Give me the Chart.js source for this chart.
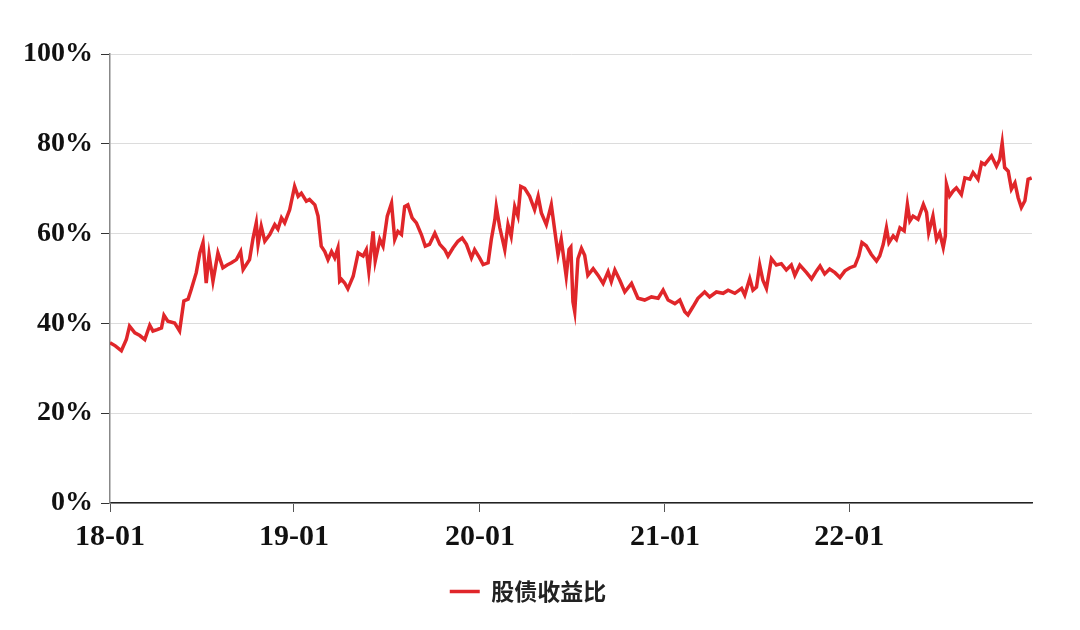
<!DOCTYPE html>
<html>
<head>
<meta charset="utf-8">
<script src="https://cdn.jsdelivr.net/npm/chart.js@4"></script>
<style>
  html, body { margin: 0; padding: 0; background: #fff; }
  #chart { display: block; }
</style>
</head>
<body>
<canvas id="chart" width="1080" height="630"></canvas>
<script>
// x position of each reading, in weeks since 2018-01-01
const weeks = [
  0, 1.5, 3.2, 4.6, 5.5, 7.0, 8.4, 9.8, 11.2, 12.1, 13.3, 14.5, 15.2, 16.3, 18.2, 19.6,
  20.8, 22.0, 22.9, 24.3, 25.3, 26.2, 27.1, 27.9, 29.0, 30.4, 31.8, 33.0, 34.2, 35.6, 36.8, 37.5,
  39.3, 40.3, 41.2, 41.7, 42.6, 43.6, 45.0, 46.4, 47.3, 48.3, 49.2, 50.6, 52.0, 53.0, 53.9, 55.3,
  56.2, 57.7, 58.6, 59.5, 60.5, 61.4, 62.4, 63.3, 64.2, 64.7, 65.2, 66.1, 67.0, 68.5, 69.9, 71.3,
  72.2, 72.9, 74.1, 74.7, 76.0, 76.9, 78.1, 79.3, 80.2, 81.1, 82.1, 83.0, 83.9, 85.1, 86.3, 87.7,
  88.8, 90.0, 91.5, 92.9, 94.3, 95.2, 96.6, 98.0, 99.2, 100.4, 101.8, 102.7, 104.1, 105.1, 106.5, 107.4,
  108.4, 108.8, 109.8, 111.2, 112.1, 113.0, 114.0, 114.9, 115.7, 116.8, 118.2, 119.6, 120.6, 121.5, 122.9, 124.3,
  125.3, 126.2, 127.1, 128.5, 129.3, 129.8, 130.4, 130.9, 131.8, 132.8, 133.7, 134.6, 136.1, 137.5, 138.9, 140.3,
  141.2, 142.2, 143.6, 145.0, 146.9, 148.7, 150.6, 152.5, 154.4, 155.8, 157.2, 159.1, 160.5, 161.9, 162.8, 164.2,
  165.6, 167.5, 168.9, 170.8, 172.7, 174.1, 176.0, 177.9, 178.8, 180.2, 181.1, 182.1, 183.0, 183.9, 184.9, 186.3,
  187.7, 189.1, 190.5, 191.9, 192.9, 194.3, 196.2, 197.6, 199.0, 200.0, 201.3, 202.7, 204.2, 205.6, 207.0, 208.4,
  209.8, 210.9, 211.8, 213.0, 214.4, 215.9, 216.8, 217.8, 218.7, 219.4, 220.6, 221.5, 222.5, 223.7, 224.6, 225.3,
  226.2, 227.6, 229.1, 230.0, 230.6, 231.8, 232.8, 233.7, 234.7, 235.3, 235.6, 236.5, 237.5, 238.4, 239.8, 240.8,
  242.2, 243.1, 244.5, 245.5, 246.4, 248.3, 249.7, 250.6, 251.3, 252.0, 253.0, 253.9, 254.9, 255.8, 256.7, 257.7,
  258.6, 259.6
];

// 股债收益比, %
const ratio = [
  35.7, 35.0, 33.9, 36.4, 39.4, 37.9, 37.3, 36.4, 39.6, 38.3, 38.6, 39.0, 41.8, 40.5, 40.1, 38.3,
  45.0, 45.4, 47.6, 51.3, 55.7, 58.0, 49.0, 55.3, 49.4, 55.7, 52.4, 53.0, 53.5, 54.2, 56.0, 52.0,
  54.2, 59.0, 62.4, 57.6, 61.6, 58.3, 59.8, 62.0, 61.0, 63.5, 62.4, 65.3, 70.5, 68.3, 69.0, 67.2,
  67.6, 66.4, 63.9, 57.2, 56.0, 54.2, 56.0, 54.6, 56.8, 49.4, 49.8, 49.0, 47.7, 50.5, 55.7, 55.0,
  56.4, 51.6, 60.5, 53.9, 58.7, 57.2, 63.9, 66.8, 58.7, 60.5, 59.8, 66.0, 66.4, 63.5, 62.4, 59.8,
  57.2, 57.6, 60.1, 57.6, 56.4, 55.0, 56.8, 58.3, 59.0, 57.6, 54.6, 56.4, 54.6, 53.1, 53.5, 58.7,
  63.1, 66.0, 61.3, 56.4, 62.0, 59.4, 66.0, 63.9, 70.5, 70.1, 68.3, 65.3, 68.3, 64.6, 62.0, 66.4,
  60.5, 55.3, 58.7, 50.5, 56.5, 57.0, 44.8, 42.6, 54.4, 56.7, 55.2, 50.7, 52.2, 50.7, 48.9, 51.5,
  49.3, 51.9, 49.6, 47.0, 48.9, 45.6, 45.2, 45.9, 45.6, 47.4, 45.2, 44.4, 45.2, 42.6, 41.9, 43.7,
  45.6, 47.0, 45.9, 47.0, 46.7, 47.4, 46.7, 47.8, 46.3, 50.0, 47.4, 48.1, 53.0, 49.6, 47.8, 54.4,
  53.0, 53.3, 51.9, 53.0, 50.7, 53.0, 51.3, 49.9, 51.7, 52.8, 51.0, 52.1, 51.3, 50.2, 51.7, 52.4,
  52.8, 55.0, 58.0, 57.3, 55.4, 53.9, 55.0, 57.6, 61.3, 58.0, 59.5, 58.7, 61.3, 60.6, 66.5, 62.8,
  63.9, 63.2, 66.5, 64.7, 60.2, 63.9, 58.7, 60.2, 56.9, 59.5, 71.0, 68.4, 69.5, 70.2, 68.7, 72.4,
  72.1, 73.6, 72.1, 75.8, 75.4, 77.3, 75.0, 76.5, 80.2, 74.7, 73.9, 69.9, 71.3, 68.0, 65.8, 67.3,
  72.1, 72.4
];

const tickWeeks = [0, 51.8, 104.2, 156.3, 208.2];
const tickLabels = ['18-01', '19-01', '20-01', '21-01', '22-01'];
const lastWeek = 259.7;

const serif = 'Liberation Serif';

const ctx = document.getElementById('chart').getContext('2d');
new Chart(ctx, {
  type: 'line',
  data: {
    datasets: [{
      label: '股债收益比',
      data: weeks.map((w, i) => ({ x: w, y: ratio[i] })),
      borderColor: '#e0262a',
      backgroundColor: '#e0262a',
      borderWidth: 3.5,
      pointRadius: 0,
      tension: 0,
      fill: false
    }]
  },
  options: {
    responsive: false,
    animation: false,
    layout: { padding: { top: 54, right: 48, bottom: 17, left: 24 } },
    plugins: {
      legend: {
        position: 'bottom',
        labels: {
          usePointStyle: true,
          pointStyle: 'line',
          pointStyleWidth: 30,
          color: '#222',
          font: { family: 'Noto Sans CJK SC', weight: 'bold', size: 23 }
        }
      },
      tooltip: { enabled: false }
    },
    scales: {
      x: {
        type: 'linear',
        min: 0,
        max: lastWeek,
        afterFit: s => { s.height = 67; },
        afterBuildTicks: s => { s.ticks = tickWeeks.map(v => ({ value: v })); },
        border: { color: '#222', width: 1.5 },
        grid: { drawOnChartArea: false, tickLength: 9, tickColor: '#555' },
        ticks: {
          autoSkip: false,
          maxRotation: 0,
          padding: 7,
          color: '#111',
          font: { family: serif, weight: 'bold', size: 30 },
          callback: (v, i) => tickLabels[i]
        }
      },
      y: {
        min: 0,
        max: 100,
        afterFit: s => { s.width = 86; },
        border: { color: '#888', width: 1.5 },
        grid: { color: '#dcdcdc', lineWidth: 1, tickLength: 9, tickColor: '#333' },
        ticks: {
          stepSize: 20,
          padding: 8,
          color: '#111',
          font: { family: serif, weight: 'bold', size: 28 },
          callback: v => v + '%'
        }
      }
    }
  }
});
</script>
</body>
</html>
